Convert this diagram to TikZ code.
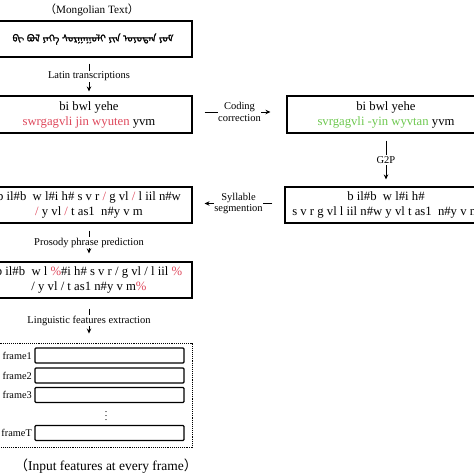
\documentclass[tikz,border=0pt]{standalone}
\usepackage{fontspec}
\setmainfont{Liberation Serif}
\newfontfamily\cjk{Noto Sans CJK SC}
\IfFontExistsTF{Noto Sans Mongolian}
  {\newfontfamily\mongol[Script=Mongolian,FakeBold=1.5]{Noto Sans Mongolian}}
  {\newfontfamily\mongol{DejaVu Sans}}
\usepackage{tikz}
\usetikzlibrary{arrows.meta,positioning}
\definecolor{segred}{RGB}{222,72,92}
\definecolor{codegreen}{RGB}{110,200,80}
\newcommand{\rd}[1]{\textcolor{segred}{#1}}
\tikzset{
textbox/.style={
  draw, rectangle,
  line width=1.1pt,
  align=center,
  inner sep=0pt,
  font=\fontsize{12.7}{15}\selectfont
},
flow/.style={line width=0.8pt, -{Stealth[length=5pt,width=4.5pt]}},
steplabel/.style={fill=white, inner sep=1pt, align=center, font=\fontsize{10.5}{11.5}\selectfont},
framebox/.style={draw, line width=1.1pt, rounded corners=1pt, minimum width=149pt, minimum height=15pt, inner sep=0pt},
framelabel/.style={anchor=east, inner sep=0pt, font=\fontsize{10.3}{12}\selectfont},
}

\begin{document}
\begin{tikzpicture}[x=1pt,y=-1pt]
            \useasboundingbox (0,0) rectangle (474,474);
            \clip (0,0) rectangle (474,474);
            % left column
            \node (title) at (92,10) {\fontsize{11.2}{12}\selectfont{\cjk（}Mongolian Text{\cjk）}};
            \node (mongol) [textbox, minimum width=206pt, minimum height=36pt] at (89,39)
              {\hspace*{8pt}{\mongol\fontsize{10}{12}\selectfont ᠪᠢ ᠪᠣᠯ ᠶᠡᠬᠡ ᠰᠤᠷᠭᠠᠭᠤᠯᠢ ᠶᠢᠨ ᠣᠶᠤᠲᠠᠨ ᠶᠤᠮ}};
            \node (latin) [textbox, minimum width=206pt, minimum height=37pt] at (89,114.5)
              {bi bwl yehe\\ \rd{swrgagvli jin wyuten} yvm};
            \node (syll) [textbox, minimum width=206pt, minimum height=36pt] at (89,205)
              {b il\#b\ \ w l\#i h\# s v r \rd{/} g vl \rd{/} l iil n\#w\\ \rd{/} y vl \rd{/} t as1\ \ n\#y v m};
            \node (prosody) [textbox, minimum width=206pt, minimum height=36pt] at (89,280)
              {b il\#b\ \ w l \rd{\%}\#i h\# s v r / g vl / l iil \rd{\%}\\ / y vl / t as1 n\#y v m\rd{\%}};
            \node (feat) [draw, densely dotted, line width=0.9pt, minimum width=206pt, minimum height=104pt] at (89,395) {};
            % right column
            \node (coded) [textbox, minimum width=198pt, minimum height=37pt] at (386,114.5)
              {bi bwl yehe\\ \textcolor{codegreen}{svrgagvli -yin wyvtan} yvm};
            \node (g2p) [textbox, minimum width=202pt, minimum height=36pt] at (386,205)
              {b il\#b\ \ w l\#i h\#\\ s v r g vl l iil n\#w y vl t as1\ \ n\#y v m};
            % frames
            \foreach \name/\y/\txt in {f1/355.5/frame1, f2/375.5/frame2, f3/395/frame3, fT/433/frameT} {
              \node (\name) [framebox] at (109.5,\y) {};
              \node (\name lab) [framelabel] at (32,\y) {\txt};
            }
            \node (dots) at (106,413) {$\vdots$};
            \node (caption) at (106,466) {\fontsize{13.5}{15}\selectfont{\cjk（}Input features at every frame{\cjk）}};
            % connectors
            \draw[flow, shorten <=6pt, shorten >=4pt] (mongol) -- node[steplabel] {Latin transcriptions} (latin);
            \draw[flow, shorten <=12pt, shorten >=16pt] ([yshift=2.5pt]latin.east) -- node[steplabel, inner sep=0.5pt] {Coding\\correction} ([yshift=2.5pt]coded.west);
            \draw[flow, shorten <=7pt, shorten >=7pt] (coded) -- node[steplabel] {G2P} (g2p);
            \draw[flow, shorten <=12pt, shorten >=12pt] ([yshift=1.5pt]g2p.west) -- node[steplabel, inner sep=0.5pt] {Syllable\\segmention} ([yshift=1.5pt]syll.east);
            \draw[flow, shorten <=7pt, shorten >=8pt] (syll) -- node[steplabel] {Prosody phrase prediction} (prosody);
            \draw[flow, shorten <=10pt, shorten >=9pt] (prosody) -- node[steplabel] {Linguistic features extraction} (feat);
\end{tikzpicture}
\end{document}
